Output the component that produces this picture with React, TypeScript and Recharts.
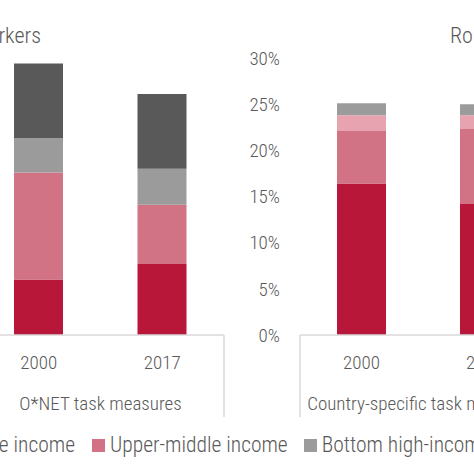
import React from 'react';
import { BarChart, Bar, XAxis, YAxis } from 'recharts';

// ---- data ----
const years = ['2000', '2017'];
const groupLabels = ['O*NET task measures', 'Country-specific task measures'];
const titles = ['Non-routine cognitive workers', 'Routine cognitive workers'];

const seriesKeys = ['lowerMiddle', 'upperMiddle', 'topMiddle', 'bottomHigh', 'topHigh'];
const seriesNames = ['Lower-middle income', 'Upper-middle income', 'Top middle-income', 'Bottom high-income', 'Top high-income'];
const seriesColors = ['#B8173A', '#D27385', '#E8A3B0', '#9B9B9B', '#595959'];
const legendKeys = ['lowerMiddle', 'upperMiddle', 'bottomHigh', 'topHigh', 'topMiddle'];

// O*NET task measures (share of workers, %)
const onetLowerMiddle = [6.0, 7.7];
const onetUpperMiddle = [11.6, 6.4];
const onetTopMiddle = [0, 0];
const onetBottomHigh = [3.7, 3.9];
const onetTopHigh = [8.1, 8.1];

// Country-specific task measures (share of workers, %)
const csLowerMiddle = [16.4, 14.2];
const csUpperMiddle = [5.7, 8.1];
const csTopMiddle = [1.7, 1.5];
const csBottomHigh = [1.3, 1.2];
const csTopHigh = [0, 0];

const yTicks = [0, 5, 10, 15, 20, 25, 30];

// ---- layout ----
const FONT = "'Roboto Condensed','Liberation Sans Narrow','Arial Narrow','DejaVu Sans Condensed',sans-serif";
const WEIGHT = 300;
const TEXT = '#595959';
const AXIS = '#D9D9D9';
const AXIS_FS = 19;
const CHART_H = 474;
const PLOT_TOP = 58;
const YEAR_AXIS_H = 45;
const GROUP_AXIS_H = 50;
const BOTTOM_MARGIN = 44;
const GROUP_TICK_MARGIN = 17;

const build = (cols: number[][], group: string) =>
  years.map((y, i) => {
    const row: Record<string, any> = { year: y, group };
    seriesKeys.forEach((k, j) => (row[k] = cols[j][i]));
    return row;
  });

const onetData = build([onetLowerMiddle, onetUpperMiddle, onetTopMiddle, onetBottomHigh, onetTopHigh], groupLabels[0]);
const csData = build([csLowerMiddle, csUpperMiddle, csTopMiddle, csBottomHigh, csTopHigh], groupLabels[1]);

const makeGroupTick = (halfW: number) => (props: any) => {
  const { x, y, payload } = props;
  const top = y - GROUP_TICK_MARGIN - YEAR_AXIS_H;
  return (
    <g>
      <line x1={x - halfW} x2={x - halfW} y1={top} y2={y + 20} stroke={AXIS} strokeWidth={1.5} />
      <line x1={x + halfW} x2={x + halfW} y1={top} y2={y + 20} stroke={AXIS} strokeWidth={1.5} />
      <text x={x} y={y} dy="0.71em" textAnchor="middle" fill={TEXT} fontSize={AXIS_FS} fontWeight={WEIGHT} fontFamily={FONT}>
        {payload.value}
      </text>
    </g>
  );
};

function Panel(props: { data: any[]; left: number; plotW: number; yAxisW: number; showY: boolean }) {
  const { data, left, plotW, yAxisW, showY } = props;
  const rightM = 10;
  const width = yAxisW + plotW + rightM;
  const tickStyle = { fill: TEXT, fontSize: AXIS_FS, fontFamily: FONT, fontWeight: WEIGHT };
  return (
    <div style={{ position: 'absolute', left, top: 0 }}>
      <BarChart
        width={width}
        height={CHART_H}
        data={data}
        margin={{ top: PLOT_TOP, right: rightM, bottom: BOTTOM_MARGIN, left: 0 }}
      >
        <YAxis
          hide={!showY}
          width={yAxisW}
          domain={[0, 30]}
          ticks={yTicks}
          axisLine={false}
          tickLine={false}
          tickSize={0}
          tickMargin={20}
          tickFormatter={(v: number) => `${v}%`}
          tick={tickStyle}
        />
        <XAxis
          dataKey="year"
          height={YEAR_AXIS_H}
          axisLine={{ stroke: AXIS, strokeWidth: 1.5 }}
          tickLine={false}
          tickSize={0}
          tickMargin={21}
          tick={tickStyle}
        />
        <XAxis
          xAxisId="g"
          dataKey="group"
          allowDuplicatedCategory={false}
          height={GROUP_AXIS_H}
          axisLine={false}
          tickLine={false}
          tickSize={0}
          tickMargin={GROUP_TICK_MARGIN}
          interval={0}
          tick={makeGroupTick(plotW / 2)}
        />
        {seriesKeys.map((k, i) => (
          <Bar
            key={k}
            dataKey={k}
            name={seriesNames[i]}
            stackId="a"
            fill={seriesColors[i]}
            barSize={49}
            isAnimationActive={false}
          />
        ))}
      </BarChart>
    </div>
  );
}

function LegendRow() {
  const anchor = 1;
  const item = (k: string) => {
    const i = seriesKeys.indexOf(k);
    return (
      <div key={k} style={{ display: 'flex', alignItems: 'center', marginRight: 16, whiteSpace: 'nowrap' }}>
        <span style={{ display: 'inline-block', width: 13, height: 13, background: seriesColors[i], marginRight: 5 }} />
        <span>{seriesNames[i]}</span>
      </div>
    );
  };
  const common: React.CSSProperties = {
    position: 'absolute',
    top: 434,
    display: 'flex',
    alignItems: 'center',
    fontFamily: FONT,
    fontWeight: WEIGHT,
    fontSize: 21.5,
    lineHeight: '22px',
    color: TEXT,
    whiteSpace: 'nowrap',
  };
  return (
    <>
      <div style={{ ...common, right: 474 - 75 - 16, flexDirection: 'row' }}>
        {legendKeys.slice(0, anchor).map(item)}
      </div>
      <div style={{ ...common, left: 92 }}>{legendKeys.slice(anchor).map(item)}</div>
    </>
  );
}

export default function App() {
  return (
    <div
      style={{
        position: 'absolute',
        left: 0,
        top: 0,
        width: 474,
        height: 474,
        overflow: 'hidden',
        background: '#fff',
      }}
    >
      <Panel data={onetData} left={-22.75} plotW={247} yAxisW={0} showY={false} />
      <Panel data={csData} left={240} plotW={246} yAxisW={60} showY={true} />
      <svg width={474} height={474} style={{ position: 'absolute', left: 0, top: 0, pointerEvents: 'none' }}>
        <text x={41} y={43} textAnchor="end" fill={TEXT} fontSize={22} fontWeight={WEIGHT} fontFamily={FONT}>
          {titles[0]}
        </text>
        <text x={450} y={43} textAnchor="start" fill={TEXT} fontSize={22} fontWeight={WEIGHT} fontFamily={FONT}>
          {titles[1]}
        </text>
      </svg>
      <LegendRow />
    </div>
  );
}
